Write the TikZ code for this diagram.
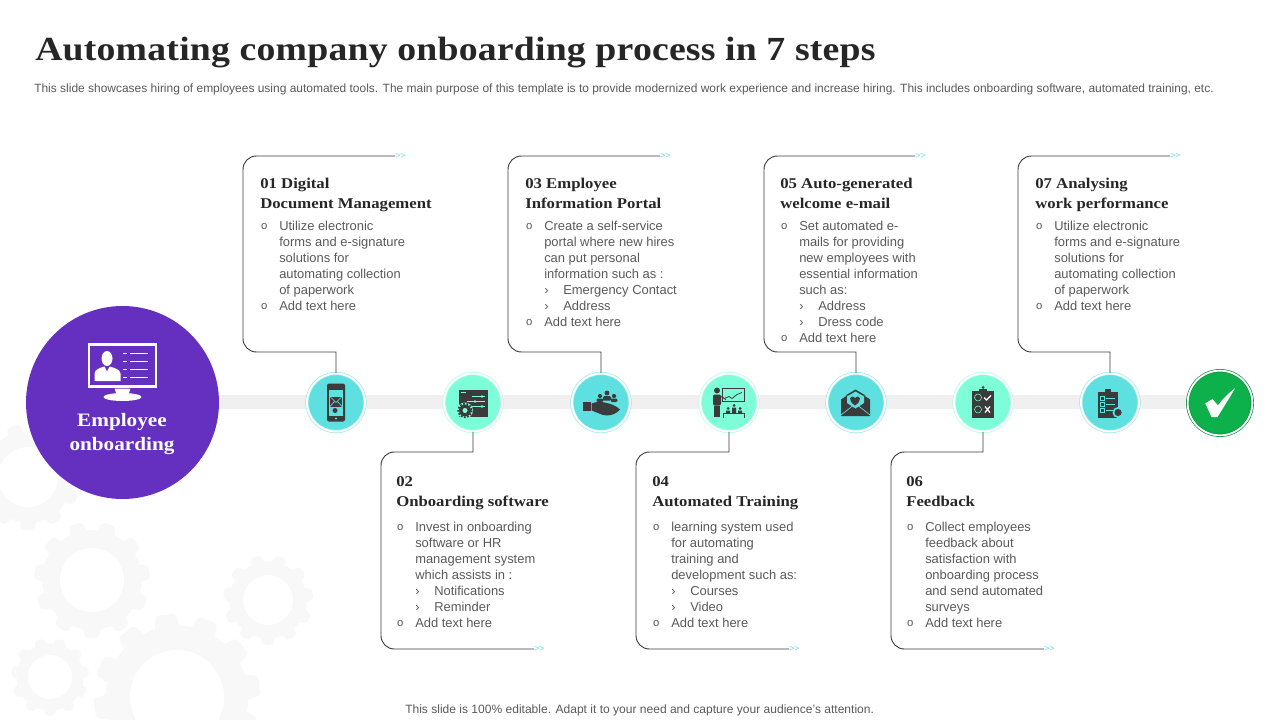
\documentclass[tikz,border=0pt]{standalone}
\usepackage{fontspec}
\setmainfont{Liberation Sans}
\newfontfamily\headfont[FakeStretch=1.12]{Liberation Serif}
\usetikzlibrary{positioning}

\definecolor{darktext}{HTML}{262626}
\definecolor{bodytext}{HTML}{595959}
\definecolor{icondark}{HTML}{3B3B3B}
\definecolor{purplehub}{HTML}{652FBF}
\definecolor{tealstep}{HTML}{5EDFE0}
\definecolor{mintstep}{HTML}{7DFDD8}
\definecolor{greenend}{HTML}{0DB14B}
\definecolor{bandgrey}{HTML}{F0F0F0}
\definecolor{geargrey}{HTML}{F8F8F8}

% list lines of the cards
\newcommand{\bitem}[1]{\makebox[14.25pt][l]{\hspace{0.6pt}\raisebox{0.2pt}{\fontsize{8.5}{8}\selectfont o}}#1}
\newcommand{\citem}[1]{\hspace*{14.25pt}#1}
\newcommand{\sitem}[1]{\hspace*{14.25pt}\makebox[14.25pt][l]{›}#1}

% one background gear: x, y, outer radius, hole radius, teeth
\newcommand{\gearwheel}[5]{%
  \fill[geargrey] (#1,#2) circle[radius=0.86*#3];
  \foreach \a in {1,...,#5}
    \fill[geargrey,shift={(#1,#2)},rotate=\a*360/#5+8,rounded corners=2.5pt]
      (0.7*#3,-0.18*#3) -- (#3,-0.12*#3) -- (#3,0.12*#3) -- (0.7*#3,0.18*#3) -- cycle;
  \fill[white] (#1,#2) circle[radius=#4];
}

\begin{document}
\begin{tikzpicture}[
  x=0.75pt, y=-0.75pt,
  band/.style={fill=bandgrey},
  hub/.style={circle, fill=purplehub, minimum size=144.75pt, inner sep=0pt},
  hublabel/.style={font=\headfont\bfseries\fontsize{14.2}{18.5}\selectfont, text=white, align=center, inner sep=0pt},
  tealcircle/.style={circle, fill=tealstep, draw=tealstep!65!white, double=white, double distance=1.5pt, line width=0.5pt, minimum size=43.5pt, inner sep=0pt},
  mintcircle/.style={circle, fill=mintstep, draw=mintstep!60!white, double=white, double distance=1.5pt, line width=0.5pt, minimum size=43.5pt, inner sep=0pt},
  endcircle/.style={circle, fill=greenend, draw=greenend!80!black, double=white, double distance=1.4pt, line width=0.5pt, minimum size=48.5pt, inner sep=0pt},
  cardline/.style={draw=icondark, line width=0.7pt},
  endmark/.style={font=\fontsize{6.5}{6}\selectfont, text=tealstep, inner sep=0pt, anchor=west},
  cardhead/.style={font=\headfont\bfseries\fontsize{11.2}{15}\selectfont, text=darktext, align=left, anchor=north west, inner sep=0pt},
  cardbody/.style={font=\fontsize{9.7}{12}\selectfont, text=bodytext, align=left, anchor=north west, inner sep=0pt},
  icon/.style={fill=icondark, draw=none},
  ]

\useasboundingbox (0,0) rectangle (1280,720);

% Gears behind everything
\begin{scope}
\clip (0,0) rectangle (1280,720);
\gearwheel{28}{477}{53}{30}{11}
\gearwheel{92}{580}{58}{32}{11}
\gearwheel{268}{600}{45}{25}{11}
\gearwheel{50}{677}{39}{22}{11}
\gearwheel{177}{697}{83}{47}{12}
\end{scope}

% Title and notes
\node (title) [anchor=base west, inner sep=0pt, text=darktext, font=\headfont\bfseries\addfontfeature{LetterSpace=0.55}\fontsize{25.3}{30}\selectfont] at (35,61) {Automating company onboarding process in 7 steps};
\node (intro) [anchor=base west, inner sep=0pt, text=bodytext, font=\fontsize{8.98}{10}\selectfont] at (34,93) {This slide showcases hiring of employees using automated tools. The main purpose of this template is to provide modernized work experience and increase hiring. This includes onboarding software, automated training, etc.};
\node (footer) [anchor=base west, inner sep=0pt, text=bodytext, font=\fontsize{9.03}{10}\selectfont] at (405,713) {This slide is 100\% editable. Adapt it to your need and capture your audience's attention.};

% Band and circles
\fill[band] (200,395) rectangle (1200,409);
\node (hub) [hub] at (122.5,402.5) {};
\node (step1) [tealcircle] at (336,402.5) {};
\node (step2) [mintcircle] at (473,402.5) {};
\node (step3) [tealcircle] at (601,402.5) {};
\node (step4) [mintcircle] at (729,402.5) {};
\node (step5) [tealcircle] at (856,402.5) {};
\node (step6) [mintcircle] at (983,402.5) {};
\node (step7) [tealcircle] at (1110,402.5) {};
\node (finish) [endcircle] at (1220,403) {};

\node (hubtext) [hublabel] at (122,434) {Employee\\onboarding};

% Top cards
\node (mark1) [endmark] at (395,156) {>{}>};
\node (mark3) [endmark] at (660,156) {>{}>};
\node (mark5) [endmark] at (915,156) {>{}>};
\node (mark7) [endmark] at (1170,156) {>{}>};
\draw[cardline] (step1.north) -- (336,352) [rounded corners=10pt] -- (243,352) -- (243,156) -- (mark1.west);
\draw[cardline] (step3.north) -- (601,352) [rounded corners=10pt] -- (508,352) -- (508,156) -- (mark3.west);
\draw[cardline] (step5.north) -- (856,352) [rounded corners=10pt] -- (764,352) -- (764,156) -- (mark5.west);
\draw[cardline] (step7.north) -- (1110,352) [rounded corners=10pt] -- (1018,352) -- (1018,156) -- (mark7.west);

% Bottom cards
\node (mark2) [endmark] at (534,649) {>{}>};
\node (mark4) [endmark] at (789,649) {>{}>};
\node (mark6) [endmark] at (1044,649) {>{}>};
\draw[cardline] (step2.south) -- (473,452) [rounded corners=10pt] -- (381,452) -- (381,649) -- (mark2.west);
\draw[cardline] (step4.south) -- (729,452) [rounded corners=10pt] -- (636,452) -- (636,649) -- (mark4.west);
\draw[cardline] (step6.south) -- (983,452) [rounded corners=10pt] -- (891,452) -- (891,649) -- (mark6.west);

% Card texts
\node (head1) [cardhead] at (260,178) {01 Digital\\Document Management};
\node (body1) [cardbody] at (260,220.5) {\bitem{Utilize electronic}\\\citem{forms and e-signature}\\\citem{solutions for}\\\citem{automating collection}\\\citem{of paperwork}\\\bitem{Add text here}};

\node (head2) [cardhead] at (396,476) {02\\Onboarding software};
\node (body2) [cardbody] at (396,521.5) {\bitem{Invest in onboarding}\\\citem{software or HR}\\\citem{management system}\\\citem{which assists in :}\\\sitem{Notifications}\\\sitem{Reminder}\\\bitem{Add text here}};

\node (head3) [cardhead] at (525,178) {03 Employee\\Information Portal};
\node (body3) [cardbody] at (525,220.5) {\bitem{Create a self-service}\\\citem{portal where new hires}\\\citem{can put personal}\\\citem{information such as :}\\\sitem{Emergency Contact}\\\sitem{Address}\\\bitem{Add text here}};

\node (head4) [cardhead] at (652,476) {04\\Automated Training};
\node (body4) [cardbody] at (652,521.5) {\bitem{learning system used}\\\citem{for automating}\\\citem{training and}\\\citem{development such as:}\\\sitem{Courses}\\\sitem{Video}\\\bitem{Add text here}};

\node (head5) [cardhead] at (780,178) {05 Auto-generated\\welcome e-mail};
\node (body5) [cardbody] at (780,220.5) {\bitem{Set automated e-}\\\citem{mails for providing}\\\citem{new employees with}\\\citem{essential information}\\\citem{such as:}\\\sitem{Address}\\\sitem{Dress code}\\\bitem{Add text here}};

\node (head6) [cardhead] at (906,476) {06\\Feedback};
\node (body6) [cardbody] at (906,521.5) {\bitem{Collect employees}\\\citem{feedback about}\\\citem{satisfaction with}\\\citem{onboarding process}\\\citem{and send automated}\\\citem{surveys}\\\bitem{Add text here}};

\node (head7) [cardhead] at (1035,178) {07 Analysing\\work performance};
\node (body7) [cardbody] at (1035,220.5) {\bitem{Utilize electronic}\\\citem{forms and e-signature}\\\citem{solutions for}\\\citem{automating collection}\\\citem{of paperwork}\\\bitem{Add text here}};

% Hub icon
\begin{scope}[shift={(122.5,402.5)}]
\draw[white, line width=2.2pt] (-33.5,-58) rectangle (33.5,-16);
\fill[white] (-8,-14) -- (8,-14) -- (6,-8) -- (-6,-8) -- cycle;
\fill[white] (0,-5.5) ellipse[x radius=19, y radius=4];
\fill[white] (-15.5,-44) ellipse[x radius=5.5, y radius=7.5];
\fill[white] (-28,-21.5) -- (-28,-29) .. controls (-28,-33) and (-22,-35) .. (-18,-36) -- (-15.5,-31) -- (-13,-36) .. controls (-9,-35) and (-2,-33) .. (-2,-29) -- (-2,-21.5) -- cycle;
\draw[white, line width=1.3pt] (0.5,-49) -- (4.5,-49) (7,-49) -- (25.5,-49) (0.5,-41) -- (4.5,-41) (7,-41) -- (25.5,-41) (0.5,-33) -- (4.5,-33) (7,-33) -- (25.5,-33) (0.5,-25) -- (4.5,-25) (7,-25) -- (25.5,-25);
\end{scope}

% Phone icon
\begin{scope}[shift={(336,402.5)}]
\fill[icon, rounded corners=1.5pt] (-9,-19) rectangle (9,19);
\fill[tealstep] (-7,-13) rectangle (7,13);
\fill[icon] (-6,-6) rectangle (6,4);
\draw[tealstep, line width=0.5pt] (-6,-6) -- (0,0) -- (6,-6) (-6,4) -- (-1.5,-1) (6,4) -- (1.5,-1);
\fill[icon] (-1,8) circle[radius=2.5];
\fill[tealstep] (0,16) circle[radius=1.2];
\end{scope}

% Settings window icon
\begin{scope}[shift={(473,402.5)}]
\fill[icon] (-14,-13) rectangle (15,14);
\draw[mintstep, line width=0.5pt] (-1,-6) -- (12,-6) (-6,-1) -- (12,-1) (-1,4) -- (12,4);
\fill[mintstep] (9,-6) circle[radius=1.4] (2,-1) circle[radius=1.4] (9,4) circle[radius=1.4];
\draw[mintstep, line width=0.4pt] (-12,-10) -- (-7,-10);
\fill[mintstep] (-8,8) circle[radius=8];
\fill[icon] (-8,8) circle[radius=6];
\draw[icondark, line width=1.3pt, dash pattern=on 1.3pt off 1.2pt] (-8,8) circle[radius=6.8];
\fill[mintstep] (-8,8) circle[radius=2.5];
\end{scope}

% Hand with people icon
\begin{scope}[shift={(601,402.5)}]
\fill[icon] (-18,-0.5) rectangle (-10.5,8);
\fill[icon] (-9.3,1) .. controls (-4,-1) and (0,-1) .. (3.3,0) .. controls (8,1) and (14,2) .. (19,7) .. controls (16,11) and (10,13) .. (6.3,13) .. controls (3,13) and (0,12) .. (-2,11) -- (-9.3,8) -- cycle;
\fill[icon] (6,-9.5) circle[radius=2.4] (-1,-6.5) circle[radius=2.1] (13,-6.5) circle[radius=2.1];
\fill[icon, rounded corners=1pt] (2,-6.5) rectangle (10,-2) (-4.5,-4) rectangle (2.5,-0.5) (9.5,-4) rectangle (16.5,-0.5);
\end{scope}

% Presenter icon
\begin{scope}[shift={(729,402.5)}]
\fill[icon] (-12,-12) circle[radius=3];
\fill[icon, rounded corners=1pt] (-16,-8) rectangle (-8,3);
\fill[icon] (-15,3) rectangle (-9,14);
\draw[icondark, line width=0.7pt] (-8,-6) -- (-3,-3);
\draw[icondark, line width=0.6pt] (-7,-14) rectangle (15,-1);
\draw[icondark, line width=0.6pt] (-5,-4) -- (0,-6) -- (3,-4) -- (8,-8) -- (13,-10);
\fill[icon] (-1,6) circle[radius=1.5] (5,3) circle[radius=1.5] (11,6) circle[radius=1.5];
\fill[icon] (-3,8) rectangle (1,11) (3,5) rectangle (7,11) (9,8) rectangle (13,11);
\draw[icondark, line width=0.6pt] (-6,15) -- (-6,11) -- (15,11) -- (15,15);
\end{scope}

% Envelope icon
\begin{scope}[shift={(856,402.5)}]
\fill[icon] (-15,-3) -- (-15,13.5) -- (14,13.5) -- (14,-3) -- (8,-7) -- (-9,-7) -- cycle;
\fill[icon] (-10.5,-7) -- (-0.5,-13) -- (9.5,-7) -- cycle;
\fill[tealstep] (-9,-6) -- (-0.5,-11) -- (8,-6) -- (8,0.5) -- (-0.5,6) -- (-9,0.5) -- cycle;
\fill[icon] (-1,3) .. controls (-9,-2) and (-6,-9) .. (-1,-4.5) .. controls (4,-9) and (7,-2) .. (-1,3) -- cycle;
\draw[tealstep, line width=0.5pt] (-15,12.5) -- (-3,3) (14,12.5) -- (2,3);
\end{scope}

% Feedback clipboard icon
\begin{scope}[shift={(983,402.5)}]
\fill[icon] (-11,-12) rectangle (11,15);
\fill[icon] (-4,-14) rectangle (4,-10);
\fill[icon] (0,-15) circle[radius=1.5];
\draw[mintstep, line width=0.4pt] (-5,-5) circle[radius=3.5] (-5,7) circle[radius=3.5];
\draw[white, line width=0.9pt] (1,-5) -- (3.5,-2.5) -- (8,-7);
\draw[white, line width=0.9pt] (2,4) -- (7,10) (7,4) -- (2,10);
\end{scope}

% Performance clipboard icon
\begin{scope}[shift={(1110,402.5)}]
\fill[icon] (-12,-11) rectangle (8,15);
\fill[icon] (-5,-14) rectangle (1,-9);
\draw[tealstep, line width=0.4pt] (-10,-6) rectangle (-6,-2) (-10,0) rectangle (-6,4) (-10,6) rectangle (-6,10);
\draw[tealstep, line width=0.6pt] (-4,-4) -- (5,-4) (-4,2) -- (5,2) (-4,8) -- (5,8);
\fill[tealstep] (8,10) circle[radius=5.5];
\fill[icon] (8,10) circle[radius=3.6];
\end{scope}

% Check mark
\fill[white] (1205.3,403.3) -- (1212.5,399) -- (1218,405.5) .. controls (1222,399.5) and (1228,393.5) .. (1235,388.3) .. controls (1230,397) and (1223,408) .. (1217.5,417) -- (1211.5,417) -- cycle;

\end{tikzpicture}
\end{document}
